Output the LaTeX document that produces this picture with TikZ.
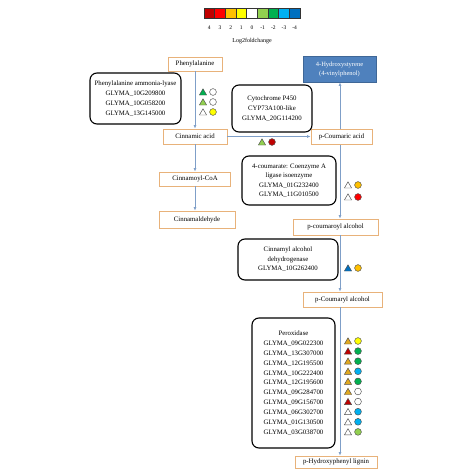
\documentclass[tikz,border=0pt]{standalone}
\usepackage{fontspec}
\setmainfont{Liberation Serif}
\usetikzlibrary{arrows.meta}
\definecolor{cdred}{HTML}{C00000}
\definecolor{cred}{HTML}{FF0000}
\definecolor{corange}{HTML}{FFC000}
\definecolor{cyellow}{HTML}{FFFF00}
\definecolor{clgreen}{HTML}{92D050}
\definecolor{cgreen}{HTML}{00B050}
\definecolor{clblue}{HTML}{00B0F0}
\definecolor{cblue}{HTML}{0070C0}
\definecolor{ctri}{HTML}{E0A820}
\definecolor{cbox}{HTML}{E8B27A}
\definecolor{carrow}{HTML}{7F9FC8}
\definecolor{chyd}{HTML}{4F81BD}
\newcommand\mytri[3]{\draw[mk,fill=#3] (#1-3.6,#2+3) -- (#1+3.6,#2+3) -- (#1,#2-3.2) -- cycle;}
\newcommand\mycirc[3]{\draw[mk,fill=#3] (#1,#2) circle[radius=3.4];}
\begin{document}
\begin{tikzpicture}[x=1pt,y=-1pt,
  metab/.style={draw=cbox, line width=0.9pt, fill=white, inner sep=0pt, font=\fontsize{6.8}{8}\selectfont},
  enz/.style={draw=black, line width=1.1pt, rounded corners=7pt, align=center, inner sep=0pt, font=\fontsize{6.8}{10}\selectfont},
  arr/.style={draw=carrow, line width=0.8pt, -{Latex[length=3.5pt,width=3pt]}},
  mk/.style={line width=0.45pt, draw=black!70},
  cell/.style={draw=black!80, line width=0.4pt, minimum width=10.67pt, minimum height=10pt, inner sep=0pt},
  lab/.style={font=\fontsize{5.5}{6}\selectfont, inner sep=0pt}]
\useasboundingbox[fill=white] (0,0) rectangle (474,474);

% legend
\foreach \c/\v [count=\i from 0] in {cdred/4,cred/3,corange/2,cyellow/1,white/0,clgreen/-1,cgreen/-2,clblue/-3,cblue/-4}{
  \node[cell, fill=\c] (cell\i) at (209.3+\i*10.67,13) {};
  \node[lab] (num\i) at (209.3+\i*10.67,28) {\v};
}
\node[lab, font=\fontsize{6}{7}\selectfont] (legtitle) at (252,41) {Log2foldchange};

% metabolites
\node[metab, minimum width=54pt, minimum height=14pt] (phe) at (195,64) {Phenylalanine};
\node[metab, minimum width=64pt, minimum height=15pt] (cin) at (195,136.5) {Cinnamic acid};
\node[metab, minimum width=71pt, minimum height=14pt] (coa) at (195,179) {Cinnamoyl-CoA};
\node[metab, minimum width=76pt, minimum height=17pt] (ald) at (197,219.5) {Cinnamaldehyde};
\node[metab, draw=chyd!80!black, fill=chyd, text=white, align=center, minimum width=73pt, minimum height=26pt, font=\fontsize{6.5}{9}\selectfont] (hyd) at (339.5,69) {4-Hydroxystyrene\\(4-vinylphenol)};
\node[metab, minimum width=61pt, minimum height=15pt] (pca) at (341.5,137) {p-Coumaric acid};
\node[metab, minimum width=85pt, minimum height=16pt] (pcoal) at (335.5,227) {p-coumaroyl alcohol};
\node[metab, minimum width=79pt, minimum height=15pt] (pcal) at (342.5,299.5) {p-Coumaryl alcohol};
\node[metab, minimum width=82pt, minimum height=12pt] (lig) at (336,462) {p-Hydroxyphenyl lignin};

% enzymes
\node[enz, minimum width=91pt, minimum height=51pt] (pal) at (135.5,98.5) {Phenylalanine ammonia-lyase\\GLYMA\_10G209800\\GLYMA\_10G058200\\GLYMA\_13G145000};
\node[enz, minimum width=80pt, minimum height=47pt] (p450) at (272,108.5) {Cytochrome P450\\CYP73A100-like\\GLYMA\_20G114200};
\node[enz, minimum width=94pt, minimum height=49pt, font=\fontsize{6.8}{9.5}\selectfont] (fcl) at (289,180.5) {4-coumarate: Coenzyme A\\ligase isoenzyme\\GLYMA\_01G232400\\GLYMA\_11G010500};
\node[enz, minimum width=100pt, minimum height=41pt, font=\fontsize{6.8}{9.5}\selectfont] (cad) at (288,259.5) {Cinnamyl alcohol\\dehydrogenase\\GLYMA\_10G262400};
\node[enz, minimum width=83pt, minimum height=130pt, font=\fontsize{6.8}{9.9}\selectfont] (pox) at (293.5,383) {Peroxidase\\GLYMA\_09G022300\\GLYMA\_13G307000\\GLYMA\_12G195500\\GLYMA\_10G222400\\GLYMA\_12G195600\\GLYMA\_09G284700\\GLYMA\_09G156700\\GLYMA\_06G302700\\GLYMA\_01G130500\\GLYMA\_03G038700};

% connectors
\coordinate (vx) at (340,0);
\draw[arr] (phe) -- (cin);
\draw[arr] (cin) -- (coa);
\draw[arr] (coa) -- (ald.north -| coa.south);
\draw[arr] (cin.east) -- (cin.east -| pca.west);
\draw[arr] (pca.north -| vx) -- (hyd.south -| vx);
\draw[arr] (pca.south -| vx) -- (pcoal.north -| vx);
\draw[arr] (pcoal.south -| vx) -- (pcal.north -| vx);
\draw[arr] (pcal.south -| vx) -- (lig.north -| vx);

% markers
\mytri{203}{92}{cgreen}\mycirc{213}{92}{white}
\mytri{203}{102}{clgreen}\mycirc{213}{102}{white}
\mytri{203}{112}{white}\mycirc{213}{112}{cyellow}
\mytri{262}{142}{clgreen}\mycirc{272}{142}{cdred}
\mytri{348}{185}{white}\mycirc{358}{185}{corange}
\mytri{348}{197}{white}\mycirc{358}{197}{cred}
\mytri{348}{268}{cblue}\mycirc{358}{268}{corange}
\foreach \t/\c [count=\i from 0] in {ctri/cyellow,cdred/cgreen,ctri/cgreen,ctri/clblue,ctri/cgreen,ctri/white,cdred/white,white/clblue,white/clblue,white/clgreen}{
  \mytri{348}{341+\i*10.1}{\t}\mycirc{358}{341+\i*10.1}{\c}
}
\end{tikzpicture}
\end{document}
